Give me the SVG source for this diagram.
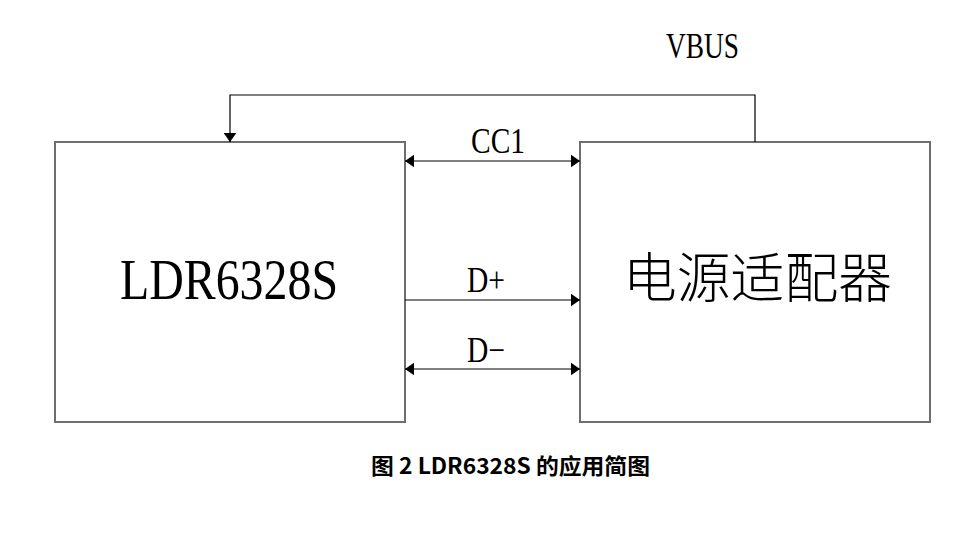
<svg xmlns="http://www.w3.org/2000/svg" width="980" height="541" viewBox="0 0 980 541">
  <defs>
    <style>
      .box { fill: #fff; stroke: #6e6e6e; stroke-width: 2; }
      .wire { fill: none; stroke: #000; stroke-width: 1.2; }
      .lat { font-family: "Liberation Serif", "Times New Roman", serif; fill: #000; }
      .cjk { font-family: "Noto Sans CJK SC", sans-serif; font-weight: 300; fill: #000; }
      .cap { font-family: "Noto Sans CJK SC", sans-serif; font-weight: bold; fill: #000; }
    </style>
    <marker id="tri" viewBox="0 0 10 14" refX="10" refY="7" markerWidth="9" markerHeight="13" markerUnits="userSpaceOnUse" orient="auto-start-reverse">
      <path d="M0,0 L10,7 L0,14 Z" fill="#000"/>
    </marker>
  </defs>

  <rect width="980" height="541" fill="#fff"/>

  <g id="ldr6328s">
    <rect class="box" x="55" y="142" width="350" height="280"/>
    <text class="lat" x="120" y="299" font-size="58" textLength="218" lengthAdjust="spacingAndGlyphs">LDR6328S</text>
  </g>

  <g id="adapter">
    <rect class="box" x="580" y="142" width="350" height="280"/>
    <text class="cjk" x="623" y="298" font-size="54" textLength="269" lengthAdjust="spacingAndGlyphs">电源适配器</text>
  </g>

  <g id="connectors">
    <!-- VBUS: from adapter top, over, down into LDR6328S -->
    <polyline class="wire" points="755,142 755,95 230,95 230,142" marker-end="url(#tri)"/>
    <text class="lat" x="666" y="58" font-size="36" textLength="73" lengthAdjust="spacingAndGlyphs">VBUS</text>

    <!-- CC1 bidirectional -->
    <line class="wire" x1="405" y1="161" x2="580" y2="161" marker-start="url(#tri)" marker-end="url(#tri)"/>
    <text class="lat" x="471" y="153" font-size="36" textLength="54" lengthAdjust="spacingAndGlyphs">CC1</text>

    <!-- D+ one-way -->
    <line class="wire" x1="405" y1="300" x2="580" y2="300" marker-end="url(#tri)"/>
    <text class="lat" x="467" y="292" font-size="36" textLength="38" lengthAdjust="spacingAndGlyphs">D+</text>

    <!-- D- bidirectional -->
    <line class="wire" x1="405" y1="369" x2="580" y2="369" marker-start="url(#tri)" marker-end="url(#tri)"/>
    <text class="lat" x="467" y="362" font-size="36" textLength="38" lengthAdjust="spacingAndGlyphs">D−</text>
  </g>

  <text class="cap" x="371" y="474" font-size="22" textLength="279" lengthAdjust="spacingAndGlyphs">图 2 LDR6328S 的应用简图</text>
</svg>
